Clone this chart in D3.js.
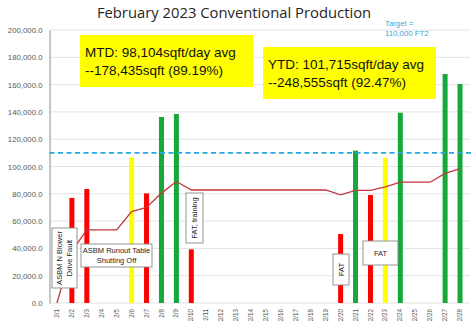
<!DOCTYPE html>
<html><head><meta charset="utf-8">
<script src="https://cdn.jsdelivr.net/npm/d3@7"></script>
<style>body{margin:0;background:#fff}svg{display:block}</style>
</head><body>
<svg id="c" width="474" height="326"></svg>
<script>
const days = ["2/1","2/2","2/3","2/4","2/5","2/6","2/7","2/8","2/9","2/10","2/11","2/12","2/13","2/14","2/15","2/16","2/17","2/18","2/19","2/20","2/21","2/22","2/23","2/24","2/25","2/26","2/27","2/28"];
const production = [0,77000,83500,null,null,106700,80300,136300,138500,39300,null,null,null,null,null,null,null,null,null,50500,111600,79100,106500,139400,null,null,167800,160400];
const status = ["r","r","r",null,null,"y","r","g","g","r",null,null,null,null,null,null,null,null,null,"r","g","r","y","g",null,null,"g","g"];
const average = [0,38000,53500,53500,53500,67000,70000,80500,89000,82800,82800,82800,82800,82800,82800,82800,82800,82800,82800,79200,82500,82500,85000,88500,88500,88500,95000,98500];
const target = 110000;
const yTicks = [0,20000,40000,60000,80000,100000,120000,140000,160000,180000,200000];
const statusColors = {r:"#ff0000", y:"#ffff00", g:"#17a83c"};

const svg = d3.select("#c");
const L = 49.5, R = 467.5, T = 30, B = 303;
const x = d3.scaleBand().domain(days).range([L, R]);
const y = d3.scaleLinear().domain([0, 200000]).range([B, T]);
const fmt = d3.format(",.1f");

// title
svg.append("text").attr("x", 234).attr("y", 18).attr("text-anchor","middle")
  .attr("font-family","Open Sans, sans-serif").attr("font-size",14.8).attr("fill","#262626")
  .text("February 2023 Conventional Production");

// gridlines
svg.append("g").selectAll("line").data(yTicks).join("line")
  .attr("x1", L).attr("x2", 470).attr("y1", d=>y(d)).attr("y2", d=>y(d))
  .attr("stroke","#e3e3e3").attr("stroke-width",1);

// y axis
const ya = svg.append("g").attr("transform",`translate(${L},0)`)
  .call(d3.axisLeft(y).tickValues(yTicks).tickFormat(fmt).tickSize(0).tickPadding(7));
ya.select(".domain").attr("stroke","#8c8c8c");
ya.selectAll("text").attr("font-family","Liberation Sans, Arial, sans-serif").attr("font-size",7.8).attr("fill","#595959");

// x axis labels
const xa = svg.append("g").attr("transform",`translate(0,${B})`)
  .call(d3.axisBottom(x).tickSize(0).tickPadding(0));
xa.select(".domain").remove();
xa.selectAll("text").attr("font-family","Liberation Sans, Arial, sans-serif").attr("font-size",6.3).attr("fill","#595959")
  .attr("text-anchor","end").attr("dx","-6").attr("dy","0.33em").attr("y",0).attr("x",0)
  .attr("transform","rotate(-90)");

// bars
const bw = 5;
const barData = days.map((d,i)=>({d, v: production[i], s: status[i]})).filter(o=>o.v && o.s);
svg.append("g").selectAll("rect").data(barData).join("rect")
  .attr("x", o=>x(o.d)+x.bandwidth()/2-bw/2).attr("width", bw)
  .attr("y", o=>y(o.v)).attr("height", o=>y(0)-y(o.v))
  .attr("fill", o=>statusColors[o.s]);

// target line
svg.append("line").attr("x1", L).attr("x2", 474).attr("y1", y(target)).attr("y2", y(target))
  .attr("stroke","#2aa8dc").attr("stroke-width",1.6).attr("stroke-dasharray","5,3.5");

// average line
svg.append("path").datum(days.map((d,i)=>[d, average[i]]))
  .attr("fill","none").attr("stroke","#c0393b").attr("stroke-width",1.3)
  .attr("d", d3.line().x(p=>x(p[0])+x.bandwidth()/2).y(p=>y(p[1])));

// annotation boxes
const ff = "Liberation Sans, Arial, sans-serif";
function box(x0,y0,w,h){
  svg.append("rect").attr("x",x0).attr("y",y0).attr("width",w).attr("height",h)
    .attr("fill","#fff").attr("stroke","#8a8a8a").attr("stroke-width",0.9);
}
function vtext(cx,cy,lines,fs){
  const g = svg.append("g").attr("transform",`translate(${cx},${cy}) rotate(-90)`);
  const n = lines.length, lh = fs*1.3;
  lines.forEach((t,i)=>g.append("text").attr("x",0).attr("y",(i-(n-1)/2)*lh).attr("dy","0.35em")
    .attr("text-anchor","middle").attr("font-family",ff).attr("font-size",fs).attr("fill","#262626").text(t));
}
function htext(cx,cy,lines,fs){
  const n = lines.length, lh = fs*1.3;
  lines.forEach((t,i)=>svg.append("text").attr("x",cx).attr("y",cy+(i-(n-1)/2)*lh).attr("dy","0.35em")
    .attr("text-anchor","middle").attr("font-family",ff).attr("font-size",fs).attr("fill","#262626").text(t));
}
box(52,228,25,60); vtext(64.5,258,["ASBM N Blower","Drive Fault"],7.5);
box(81,244,71,23); htext(116.5,255.5,["ASBM Runout Table","Shutting Off"],7.5);
box(186,193,17,50); vtext(194.5,218,["FAT, training"],7.5);
box(333,254,16,31); vtext(341,269.5,["FAT"],7.5);
box(363,241,35,24); htext(380.5,253,["FAT"],7.5);

// yellow summary boxes
function ybox(x0,y0,w,h,lines){
  svg.append("rect").attr("x",x0).attr("y",y0).attr("width",w).attr("height",h).attr("fill","#ffff00");
  lines.forEach((t,i)=>svg.append("text").attr("x",x0+5).attr("y",y0+22+i*18)
    .attr("font-family",ff).attr("font-size",13.5).attr("fill","#111").text(t));
}
ybox(80,35,173,52,["MTD: 98,104sqft/day avg","--178,435sqft (89.19%)"]);
ybox(263,47,173,52,["YTD: 101,715sqft/day avg","--248,555sqft (92.47%)"]);

// target label
svg.append("text").attr("x",385).attr("y",25.5).attr("font-family",ff).attr("font-size",7.8).attr("fill","#3aa7dc").text("Target =");
svg.append("text").attr("x",385).attr("y",35.5).attr("font-family",ff).attr("font-size",7.8).attr("fill","#3aa7dc").text("110,000 FT2");
</script>
</body></html>
